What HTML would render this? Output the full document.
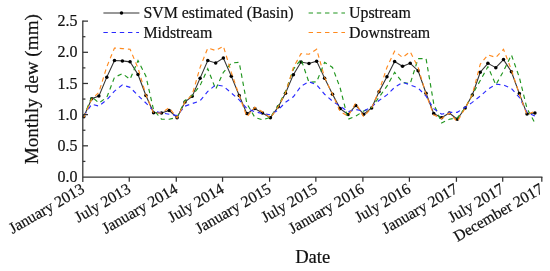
<!DOCTYPE html>
<html><head><meta charset="utf-8"><title>Monthly dew</title>
<style>html,body{margin:0;padding:0;background:#fff;}body{width:550px;height:271px;overflow:hidden;}svg{display:block;}</style>
</head><body>
<svg width="550" height="271" viewBox="0 0 550 271">
<rect width="550" height="271" fill="#fff"/>
<polyline points="83.80,116.72 91.72,98.74 98.88,96.12 106.80,77.13 114.47,60.52 122.40,60.89 130.06,61.83 137.99,74.51 145.91,95.49 153.58,112.66 161.50,112.98 169.17,110.48 177.09,117.66 185.02,101.92 192.17,96.36 200.10,78.13 207.77,60.58 215.69,63.02 223.36,58.02 231.28,76.13 239.20,95.49 246.87,113.60 254.80,108.61 262.46,112.98 270.39,117.66 278.31,106.73 285.47,93.24 293.39,74.63 301.06,62.02 308.98,63.52 316.65,61.14 324.58,78.13 332.50,94.24 340.17,108.61 348.09,114.48 355.76,105.48 363.68,114.23 371.61,107.98 379.02,91.74 386.94,76.82 394.61,61.52 402.53,66.33 410.20,63.33 418.12,70.70 426.05,93.24 433.72,113.60 441.64,117.66 449.31,112.98 457.23,119.22 465.16,107.98 472.31,95.05 480.24,72.20 487.90,63.33 495.83,67.64 503.50,59.58 511.42,71.76 519.34,93.62 527.01,113.91 534.93,112.98" fill="none" stroke="#333" stroke-width="1.1"/>
<circle cx="83.80" cy="116.72" r="1.75" fill="#000"/>
<circle cx="91.72" cy="98.74" r="1.75" fill="#000"/>
<circle cx="98.88" cy="96.12" r="1.75" fill="#000"/>
<circle cx="106.80" cy="77.13" r="1.75" fill="#000"/>
<circle cx="114.47" cy="60.52" r="1.75" fill="#000"/>
<circle cx="122.40" cy="60.89" r="1.75" fill="#000"/>
<circle cx="130.06" cy="61.83" r="1.75" fill="#000"/>
<circle cx="137.99" cy="74.51" r="1.75" fill="#000"/>
<circle cx="145.91" cy="95.49" r="1.75" fill="#000"/>
<circle cx="153.58" cy="112.66" r="1.75" fill="#000"/>
<circle cx="161.50" cy="112.98" r="1.75" fill="#000"/>
<circle cx="169.17" cy="110.48" r="1.75" fill="#000"/>
<circle cx="177.09" cy="117.66" r="1.75" fill="#000"/>
<circle cx="185.02" cy="101.92" r="1.75" fill="#000"/>
<circle cx="192.17" cy="96.36" r="1.75" fill="#000"/>
<circle cx="200.10" cy="78.13" r="1.75" fill="#000"/>
<circle cx="207.77" cy="60.58" r="1.75" fill="#000"/>
<circle cx="215.69" cy="63.02" r="1.75" fill="#000"/>
<circle cx="223.36" cy="58.02" r="1.75" fill="#000"/>
<circle cx="231.28" cy="76.13" r="1.75" fill="#000"/>
<circle cx="239.20" cy="95.49" r="1.75" fill="#000"/>
<circle cx="246.87" cy="113.60" r="1.75" fill="#000"/>
<circle cx="254.80" cy="108.61" r="1.75" fill="#000"/>
<circle cx="262.46" cy="112.98" r="1.75" fill="#000"/>
<circle cx="270.39" cy="117.66" r="1.75" fill="#000"/>
<circle cx="278.31" cy="106.73" r="1.75" fill="#000"/>
<circle cx="285.47" cy="93.24" r="1.75" fill="#000"/>
<circle cx="293.39" cy="74.63" r="1.75" fill="#000"/>
<circle cx="301.06" cy="62.02" r="1.75" fill="#000"/>
<circle cx="308.98" cy="63.52" r="1.75" fill="#000"/>
<circle cx="316.65" cy="61.14" r="1.75" fill="#000"/>
<circle cx="324.58" cy="78.13" r="1.75" fill="#000"/>
<circle cx="332.50" cy="94.24" r="1.75" fill="#000"/>
<circle cx="340.17" cy="108.61" r="1.75" fill="#000"/>
<circle cx="348.09" cy="114.48" r="1.75" fill="#000"/>
<circle cx="355.76" cy="105.48" r="1.75" fill="#000"/>
<circle cx="363.68" cy="114.23" r="1.75" fill="#000"/>
<circle cx="371.61" cy="107.98" r="1.75" fill="#000"/>
<circle cx="379.02" cy="91.74" r="1.75" fill="#000"/>
<circle cx="386.94" cy="76.82" r="1.75" fill="#000"/>
<circle cx="394.61" cy="61.52" r="1.75" fill="#000"/>
<circle cx="402.53" cy="66.33" r="1.75" fill="#000"/>
<circle cx="410.20" cy="63.33" r="1.75" fill="#000"/>
<circle cx="418.12" cy="70.70" r="1.75" fill="#000"/>
<circle cx="426.05" cy="93.24" r="1.75" fill="#000"/>
<circle cx="433.72" cy="113.60" r="1.75" fill="#000"/>
<circle cx="441.64" cy="117.66" r="1.75" fill="#000"/>
<circle cx="449.31" cy="112.98" r="1.75" fill="#000"/>
<circle cx="457.23" cy="119.22" r="1.75" fill="#000"/>
<circle cx="465.16" cy="107.98" r="1.75" fill="#000"/>
<circle cx="472.31" cy="95.05" r="1.75" fill="#000"/>
<circle cx="480.24" cy="72.20" r="1.75" fill="#000"/>
<circle cx="487.90" cy="63.33" r="1.75" fill="#000"/>
<circle cx="495.83" cy="67.64" r="1.75" fill="#000"/>
<circle cx="503.50" cy="59.58" r="1.75" fill="#000"/>
<circle cx="511.42" cy="71.76" r="1.75" fill="#000"/>
<circle cx="519.34" cy="93.62" r="1.75" fill="#000"/>
<circle cx="527.01" cy="113.91" r="1.75" fill="#000"/>
<circle cx="534.93" cy="112.98" r="1.75" fill="#000"/>
<polyline points="83.80,116.72 91.72,96.74 98.88,102.98 106.80,97.36 114.47,77.38 122.40,73.63 130.06,79.25 137.99,60.52 145.91,76.13 153.58,109.85 161.50,119.22 169.17,119.22 177.09,117.35 185.02,100.49 192.17,95.49 200.10,85.50 207.77,68.64 215.69,89.25 223.36,72.38 231.28,63.02 239.20,62.39 246.87,103.61 254.80,117.35 262.46,119.85 270.39,117.35 278.31,105.48 285.47,91.74 293.39,69.26 301.06,59.27 308.98,82.38 316.65,81.75 324.58,62.39 332.50,67.39 340.17,88.00 348.09,119.22 355.76,116.10 363.68,111.10 371.61,107.36 379.02,97.36 386.94,86.12 394.61,72.38 402.53,82.38 410.20,83.62 418.12,58.65 426.05,58.65 433.72,103.61 441.64,122.97 449.31,119.22 457.23,117.97 465.16,107.98 472.31,94.87 480.24,80.50 487.90,66.76 495.83,84.87 503.50,71.14 511.42,54.90 519.34,77.38 527.01,108.61 534.93,122.97" fill="none" stroke="#21961f" stroke-width="1.15" stroke-dasharray="4.4 3.8"/>
<polyline points="83.80,116.10 91.72,104.23 98.88,106.11 106.80,99.86 114.47,91.12 122.40,84.87 130.06,87.37 137.99,95.49 145.91,102.98 153.58,111.10 161.50,112.98 169.17,114.23 177.09,115.47 185.02,106.11 192.17,103.61 200.10,100.80 207.77,91.43 215.69,84.87 223.36,86.12 231.28,92.99 239.20,99.86 246.87,108.61 254.80,111.73 262.46,113.60 270.39,114.85 278.31,109.85 285.47,102.36 293.39,96.74 301.06,86.12 308.98,81.75 316.65,84.87 324.58,94.24 332.50,101.11 340.17,106.11 348.09,111.73 355.76,109.54 363.68,111.10 371.61,106.73 379.02,100.49 386.94,94.87 394.61,87.37 402.53,82.38 410.20,84.87 418.12,88.00 426.05,96.12 433.72,108.61 441.64,114.23 449.31,112.35 457.23,112.35 465.16,107.36 472.31,102.36 480.24,96.12 487.90,89.25 495.83,84.25 503.50,84.87 511.42,88.62 519.34,97.36 527.01,112.35 534.93,116.10" fill="none" stroke="#2a2aff" stroke-width="1.15" stroke-dasharray="4.4 3.8"/>
<polyline points="83.80,117.35 91.72,99.24 98.88,92.37 106.80,66.76 114.47,48.03 122.40,48.65 130.06,49.28 137.99,68.01 145.91,94.87 153.58,112.98 161.50,112.98 169.17,107.67 177.09,117.97 185.02,101.74 192.17,94.87 200.10,67.39 207.77,48.03 215.69,50.53 223.36,46.16 231.28,72.38 239.20,95.49 246.87,116.72 254.80,107.36 262.46,111.73 270.39,117.97 278.31,106.73 285.47,92.99 293.39,67.39 301.06,53.65 308.98,54.27 316.65,49.28 324.58,77.38 332.50,94.24 340.17,111.73 348.09,116.10 355.76,102.98 363.68,116.72 371.61,107.98 379.02,91.12 386.94,67.39 394.61,51.15 402.53,57.40 410.20,51.78 418.12,67.39 426.05,94.24 433.72,114.85 441.64,118.60 449.31,112.98 457.23,121.72 465.16,107.98 472.31,94.87 480.24,64.27 487.90,54.90 495.83,57.40 503.50,49.28 511.42,69.89 519.34,94.24 527.01,114.85 534.93,111.10" fill="none" stroke="#ff8a1e" stroke-width="1.15" stroke-dasharray="4.4 3.8"/>
<g stroke="#333" stroke-width="1.25" fill="none">
<line x1="82.8" y1="20.52" x2="82.8" y2="182.00"/>
<line x1="82.8" y1="177.0" x2="542.4" y2="177.0"/>
<line x1="82.8" y1="145.82" x2="88.0" y2="145.82"/>
<line x1="82.8" y1="114.65" x2="88.0" y2="114.65"/>
<line x1="82.8" y1="83.47" x2="88.0" y2="83.47"/>
<line x1="82.8" y1="52.30" x2="88.0" y2="52.30"/>
<line x1="82.8" y1="21.12" x2="88.0" y2="21.12"/>
<line x1="82.8" y1="161.41" x2="85.39999999999999" y2="161.41"/>
<line x1="82.8" y1="130.24" x2="85.39999999999999" y2="130.24"/>
<line x1="82.8" y1="99.06" x2="85.39999999999999" y2="99.06"/>
<line x1="82.8" y1="67.89" x2="85.39999999999999" y2="67.89"/>
<line x1="82.8" y1="36.71" x2="85.39999999999999" y2="36.71"/>
<line x1="129.26" y1="177.0" x2="129.26" y2="181.80"/>
<line x1="176.29" y1="177.0" x2="176.29" y2="181.80"/>
<line x1="222.56" y1="177.0" x2="222.56" y2="181.80"/>
<line x1="269.59" y1="177.0" x2="269.59" y2="181.80"/>
<line x1="315.85" y1="177.0" x2="315.85" y2="181.80"/>
<line x1="362.88" y1="177.0" x2="362.88" y2="181.80"/>
<line x1="409.40" y1="177.0" x2="409.40" y2="181.80"/>
<line x1="456.43" y1="177.0" x2="456.43" y2="181.80"/>
<line x1="502.70" y1="177.0" x2="502.70" y2="181.80"/>
<line x1="541.80" y1="177.0" x2="541.80" y2="181.80"/>
</g>
<text x="77.4" y="182.10" text-anchor="end" font-family="'Liberation Serif', serif" font-size="16" fill="#111" stroke="#111" stroke-width="0.2">0.0</text>
<text x="77.4" y="150.92" text-anchor="end" font-family="'Liberation Serif', serif" font-size="16" fill="#111" stroke="#111" stroke-width="0.2">0.5</text>
<text x="77.4" y="119.75" text-anchor="end" font-family="'Liberation Serif', serif" font-size="16" fill="#111" stroke="#111" stroke-width="0.2">1.0</text>
<text x="77.4" y="88.57" text-anchor="end" font-family="'Liberation Serif', serif" font-size="16" fill="#111" stroke="#111" stroke-width="0.2">1.5</text>
<text x="77.4" y="57.40" text-anchor="end" font-family="'Liberation Serif', serif" font-size="16" fill="#111" stroke="#111" stroke-width="0.2">2.0</text>
<text x="77.4" y="26.23" text-anchor="end" font-family="'Liberation Serif', serif" font-size="16" fill="#111" stroke="#111" stroke-width="0.2">2.5</text>
<text transform="translate(85.50,191.9) rotate(-30)" text-anchor="end" font-family="'Liberation Serif', serif" font-size="15.75" fill="#111" stroke="#111" stroke-width="0.2">January 2013</text>
<text transform="translate(131.76,191.9) rotate(-30)" text-anchor="end" font-family="'Liberation Serif', serif" font-size="15.75" fill="#111" stroke="#111" stroke-width="0.2">July 2013</text>
<text transform="translate(178.79,191.9) rotate(-30)" text-anchor="end" font-family="'Liberation Serif', serif" font-size="15.75" fill="#111" stroke="#111" stroke-width="0.2">January 2014</text>
<text transform="translate(225.06,191.9) rotate(-30)" text-anchor="end" font-family="'Liberation Serif', serif" font-size="15.75" fill="#111" stroke="#111" stroke-width="0.2">July 2014</text>
<text transform="translate(272.09,191.9) rotate(-30)" text-anchor="end" font-family="'Liberation Serif', serif" font-size="15.75" fill="#111" stroke="#111" stroke-width="0.2">January 2015</text>
<text transform="translate(318.35,191.9) rotate(-30)" text-anchor="end" font-family="'Liberation Serif', serif" font-size="15.75" fill="#111" stroke="#111" stroke-width="0.2">July 2015</text>
<text transform="translate(365.38,191.9) rotate(-30)" text-anchor="end" font-family="'Liberation Serif', serif" font-size="15.75" fill="#111" stroke="#111" stroke-width="0.2">January 2016</text>
<text transform="translate(411.90,191.9) rotate(-30)" text-anchor="end" font-family="'Liberation Serif', serif" font-size="15.75" fill="#111" stroke="#111" stroke-width="0.2">July 2016</text>
<text transform="translate(458.93,191.9) rotate(-30)" text-anchor="end" font-family="'Liberation Serif', serif" font-size="15.75" fill="#111" stroke="#111" stroke-width="0.2">January 2017</text>
<text transform="translate(505.20,191.9) rotate(-30)" text-anchor="end" font-family="'Liberation Serif', serif" font-size="15.75" fill="#111" stroke="#111" stroke-width="0.2">July 2017</text>
<text transform="translate(544.30,191.9) rotate(-30)" text-anchor="end" font-family="'Liberation Serif', serif" font-size="15.75" fill="#111" stroke="#111" stroke-width="0.2">December 2017</text>
<text x="312.7" y="263.2" text-anchor="middle" font-family="'Liberation Serif', serif" font-size="18.6" fill="#111" stroke="#111" stroke-width="0.2">Date</text>
<text transform="translate(37.8,89.2) rotate(-90)" text-anchor="middle" font-family="'Liberation Serif', serif" font-size="19.2" fill="#111" stroke="#111" stroke-width="0.2">Monthly dew (mm)</text>
<line x1="103.4" y1="13" x2="139.4" y2="13" stroke="#333" stroke-width="1.2"/>
<circle cx="121.5" cy="13" r="1.75" fill="#000"/>
<line x1="103.4" y1="32.5" x2="139" y2="32.5" stroke="#2a2aff" stroke-width="1.15" stroke-dasharray="4.4 3.8"/>
<line x1="308.6" y1="13" x2="345" y2="13" stroke="#21961f" stroke-width="1.15" stroke-dasharray="4.4 3.8"/>
<line x1="308.6" y1="32.5" x2="345" y2="32.5" stroke="#ff8a1e" stroke-width="1.15" stroke-dasharray="4.4 3.8"/>
<text x="143.4" y="18.2" font-family="'Liberation Serif', serif" font-size="15.9" fill="#111" stroke="#111" stroke-width="0.2">SVM estimated (Basin)</text>
<text x="143.4" y="37.6" font-family="'Liberation Serif', serif" font-size="15.9" fill="#111" stroke="#111" stroke-width="0.2">Midstream</text>
<text x="349.0" y="18.2" font-family="'Liberation Serif', serif" font-size="15.9" fill="#111" stroke="#111" stroke-width="0.2">Upstream</text>
<text x="349.0" y="37.6" font-family="'Liberation Serif', serif" font-size="15.9" fill="#111" stroke="#111" stroke-width="0.2">Downstream</text>
</svg>
</body></html>
